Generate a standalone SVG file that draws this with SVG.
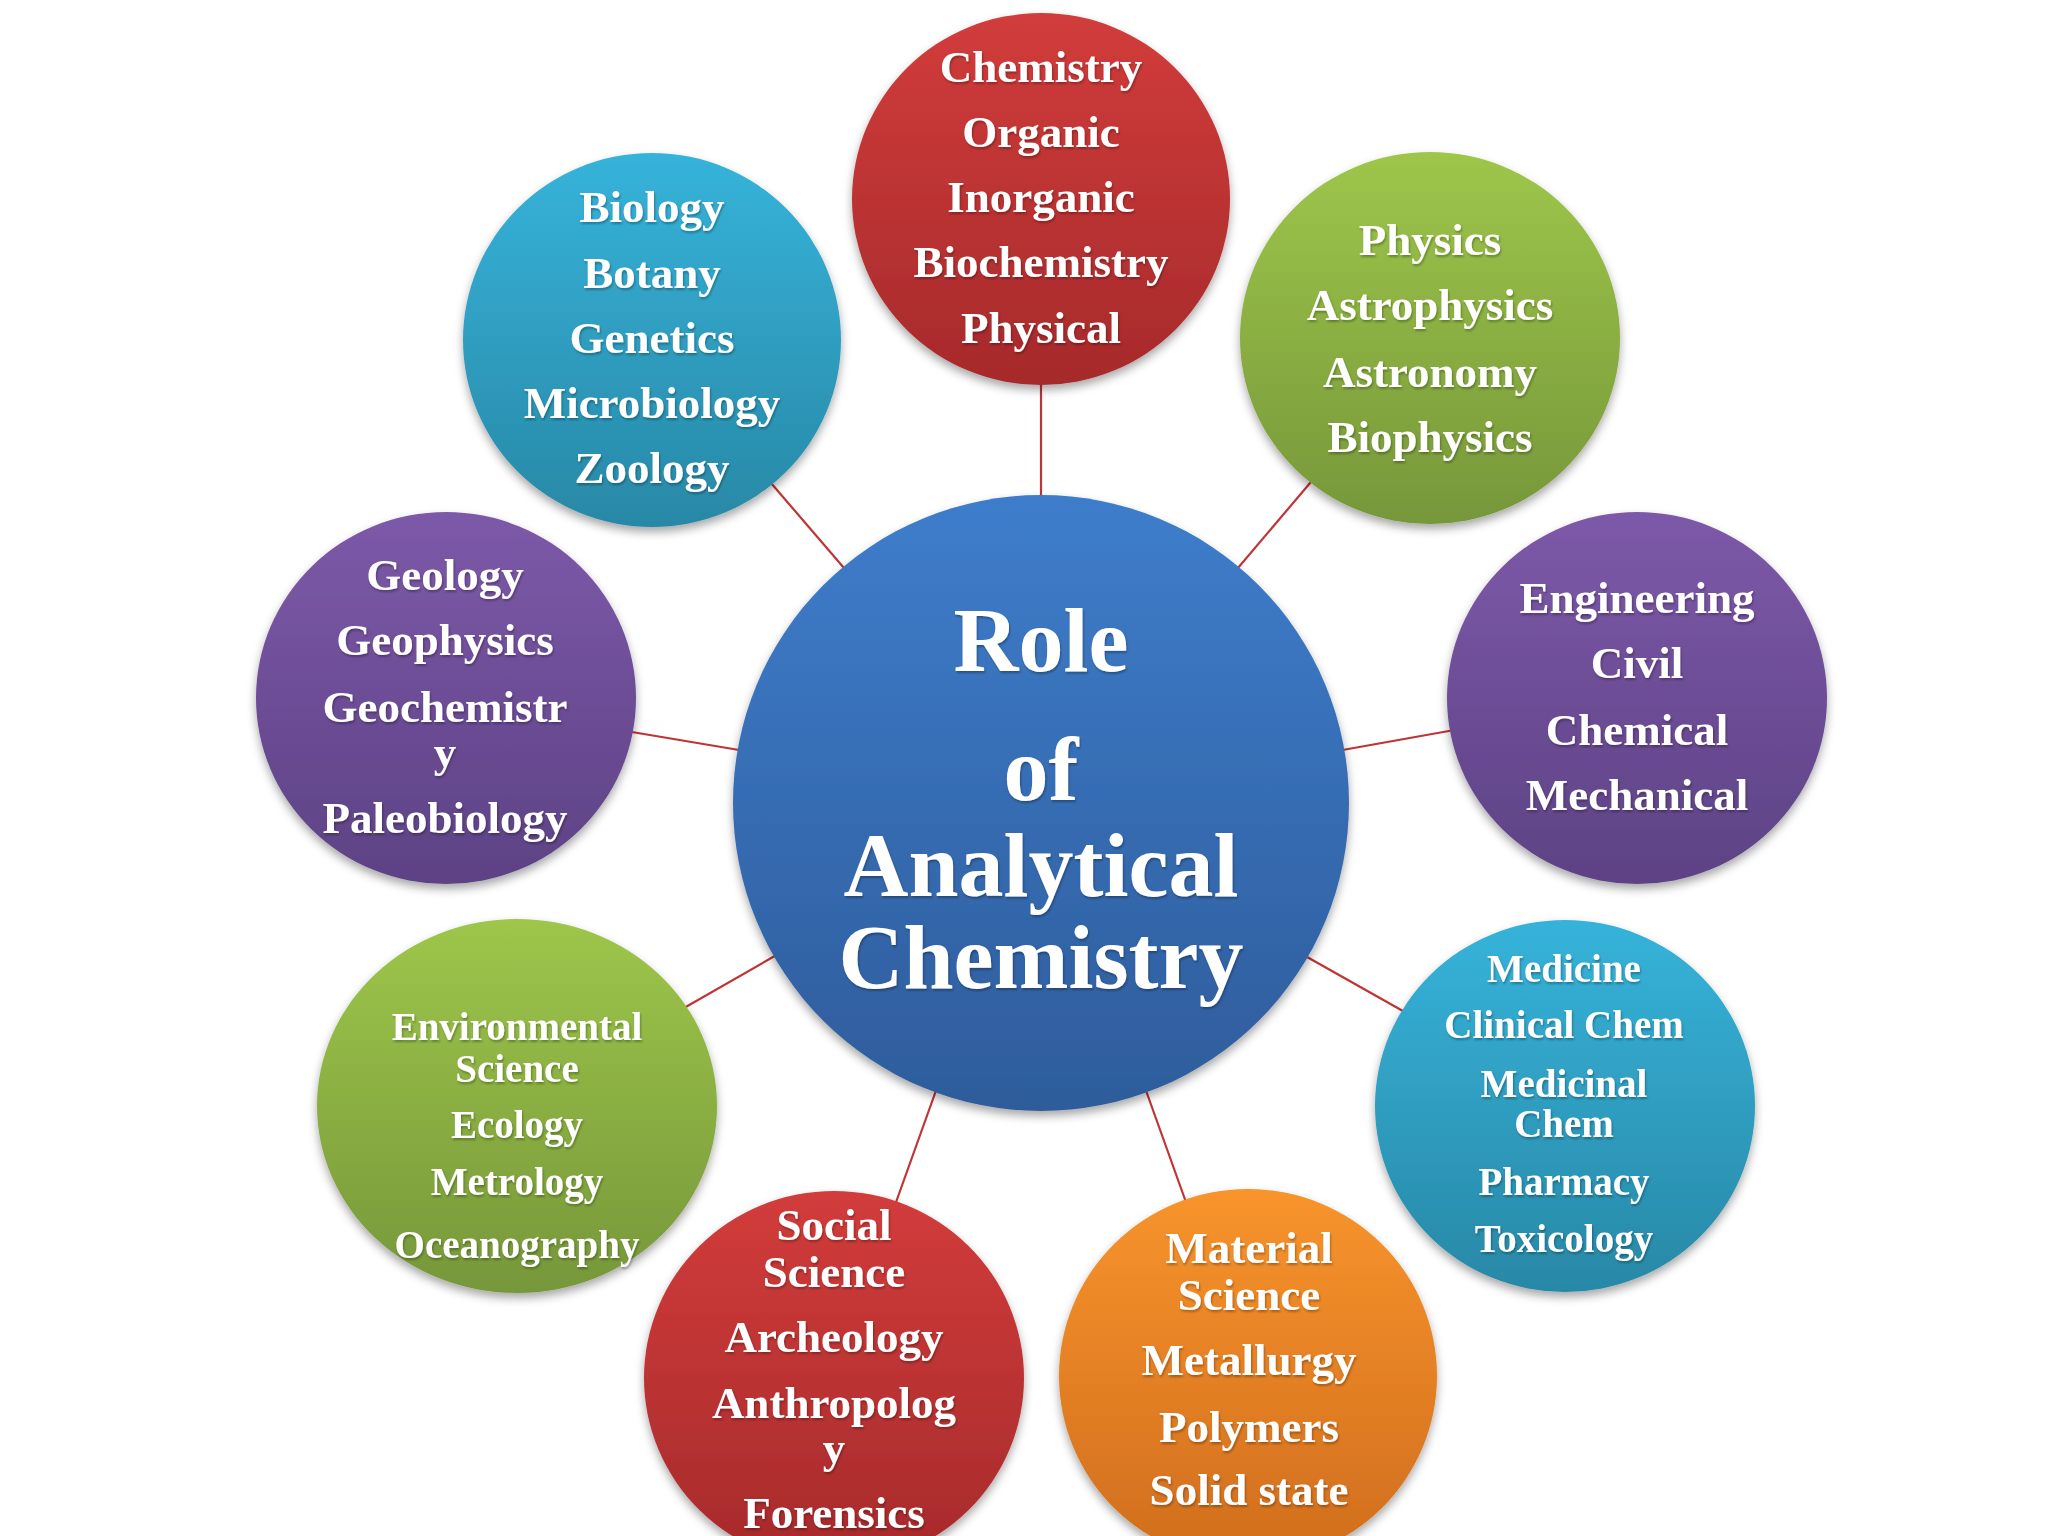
<svg xmlns="http://www.w3.org/2000/svg" width="2048" height="1536" viewBox="0 0 2048 1536">
<defs>
<linearGradient id="gBlue" x1="0" y1="0" x2="0" y2="1"><stop offset="0" stop-color="#3E7DCB"/><stop offset="1" stop-color="#2E5C9B"/></linearGradient>
<linearGradient id="gRed" x1="0" y1="0" x2="0" y2="1"><stop offset="0" stop-color="#D23C3B"/><stop offset="1" stop-color="#A62A2B"/></linearGradient>
<linearGradient id="gCyan" x1="0" y1="0" x2="0" y2="1"><stop offset="0" stop-color="#36B3DA"/><stop offset="1" stop-color="#2888A6"/></linearGradient>
<linearGradient id="gGreen" x1="0" y1="0" x2="0" y2="1"><stop offset="0" stop-color="#9EC64A"/><stop offset="1" stop-color="#76973A"/></linearGradient>
<linearGradient id="gPurple" x1="0" y1="0" x2="0" y2="1"><stop offset="0" stop-color="#7D59A9"/><stop offset="1" stop-color="#5D4284"/></linearGradient>
<linearGradient id="gOrange" x1="0" y1="0" x2="0" y2="1"><stop offset="0" stop-color="#F8942C"/><stop offset="1" stop-color="#D06D1D"/></linearGradient>
<filter id="sh" x="-20%" y="-20%" width="140%" height="140%"><feDropShadow dx="0" dy="5" stdDeviation="5" flood-color="#000" flood-opacity="0.35"/></filter>
<filter id="tsh" x="-10%" y="-10%" width="120%" height="130%"><feDropShadow dx="1" dy="2" stdDeviation="1.2" flood-color="#000" flood-opacity="0.3"/></filter>
</defs>
<style>
.t{font-family:"Liberation Serif","Times New Roman",serif;font-weight:bold;fill:#fff;text-anchor:middle;font-size:45px}
.s{font-size:39px}
.big{font-size:90px}
.c{stroke:#BF3434;stroke-width:2.2;fill:none}
</style>
<rect width="2048" height="1536" fill="#fff"/>
<g id="connectors">
<line class="c" x1="1041" y1="370" x2="1041" y2="505"/>
<line class="c" x1="765" y1="476" x2="850" y2="575"/>
<line class="c" x1="620" y1="730" x2="745" y2="751"/>
<line class="c" x1="1316" y1="476" x2="1232" y2="575"/>
<line class="c" x1="1460" y1="729" x2="1337" y2="751"/>
<line class="c" x1="677" y1="1012" x2="780" y2="953"/>
<line class="c" x1="1300" y1="953" x2="1410" y2="1015"/>
<line class="c" x1="938" y1="1085" x2="895" y2="1205"/>
<line class="c" x1="1144" y1="1085" x2="1187" y2="1205"/>
</g>
<g id="center">
<ellipse cx="1041" cy="803" rx="308" ry="308" fill="url(#gBlue)" filter="url(#sh)"/>
<g filter="url(#tsh)">
<text class="t big" x="1041" y="671">Role</text>
<text class="t big" x="1041" y="800">of</text>
<text class="t big" x="1041" y="896">Analytical</text>
<text class="t big" x="1041" y="988">Chemistry</text>
</g>
</g>
<g id="chemistry">
<ellipse cx="1041" cy="199" rx="189" ry="186" fill="url(#gRed)" filter="url(#sh)"/>
<g filter="url(#tsh)">
<text class="t" x="1041" y="82">Chemistry</text>
<text class="t" x="1041" y="147">Organic</text>
<text class="t" x="1041" y="212">Inorganic</text>
<text class="t" x="1041" y="277">Biochemistry</text>
<text class="t" x="1041" y="343">Physical</text>
</g>
</g>
<g id="biology">
<ellipse cx="652" cy="340" rx="189" ry="187" fill="url(#gCyan)" filter="url(#sh)"/>
<g filter="url(#tsh)">
<text class="t" x="652" y="222">Biology</text>
<text class="t" x="652" y="288">Botany</text>
<text class="t" x="652" y="353">Genetics</text>
<text class="t" x="652" y="418">Microbiology</text>
<text class="t" x="652" y="483">Zoology</text>
</g>
</g>
<g id="physics">
<ellipse cx="1430" cy="338" rx="190" ry="186" fill="url(#gGreen)" filter="url(#sh)"/>
<g filter="url(#tsh)">
<text class="t" x="1430" y="255">Physics</text>
<text class="t" x="1430" y="320">Astrophysics</text>
<text class="t" x="1430" y="387">Astronomy</text>
<text class="t" x="1430" y="452">Biophysics</text>
</g>
</g>
<g id="geology">
<ellipse cx="446" cy="698" rx="190" ry="186" fill="url(#gPurple)" filter="url(#sh)"/>
<g filter="url(#tsh)">
<text class="t" x="445" y="590">Geology</text>
<text class="t" x="445" y="655">Geophysics</text>
<text class="t" x="445" y="722">Geochemistr</text>
<text class="t" x="445" y="767">y</text>
<text class="t" x="445" y="833">Paleobiology</text>
</g>
</g>
<g id="engineering">
<ellipse cx="1637" cy="698" rx="190" ry="186" fill="url(#gPurple)" filter="url(#sh)"/>
<g filter="url(#tsh)">
<text class="t" x="1637" y="613">Engineering</text>
<text class="t" x="1637" y="678">Civil</text>
<text class="t" x="1637" y="745">Chemical</text>
<text class="t" x="1637" y="810">Mechanical</text>
</g>
</g>
<g id="environmental">
<ellipse cx="517" cy="1106" rx="200" ry="187" fill="url(#gGreen)" filter="url(#sh)"/>
<g filter="url(#tsh)">
<text class="t s" x="517" y="1040">Environmental</text>
<text class="t s" x="517" y="1082">Science</text>
<text class="t s" x="517" y="1138">Ecology</text>
<text class="t s" x="517" y="1195">Metrology</text>
<text class="t s" x="517" y="1258">Oceanography</text>
</g>
</g>
<g id="medicine">
<ellipse cx="1565" cy="1106" rx="190" ry="186" fill="url(#gCyan)" filter="url(#sh)"/>
<g filter="url(#tsh)">
<text class="t s" x="1564" y="982">Medicine</text>
<text class="t s" x="1564" y="1038">Clinical Chem</text>
<text class="t s" x="1564" y="1097">Medicinal</text>
<text class="t s" x="1564" y="1137">Chem</text>
<text class="t s" x="1564" y="1195">Pharmacy</text>
<text class="t s" x="1564" y="1252">Toxicology</text>
</g>
</g>
<g id="social">
<ellipse cx="834" cy="1378" rx="190" ry="187" fill="url(#gRed)" filter="url(#sh)"/>
<g filter="url(#tsh)">
<text class="t" x="834" y="1240">Social</text>
<text class="t" x="834" y="1287">Science</text>
<text class="t" x="834" y="1352">Archeology</text>
<text class="t" x="834" y="1418">Anthropolog</text>
<text class="t" x="834" y="1463">y</text>
<text class="t" x="834" y="1528">Forensics</text>
</g>
</g>
<g id="material">
<ellipse cx="1248" cy="1376" rx="189" ry="187" fill="url(#gOrange)" filter="url(#sh)"/>
<g filter="url(#tsh)">
<text class="t" x="1249" y="1263">Material</text>
<text class="t" x="1249" y="1310">Science</text>
<text class="t" x="1249" y="1375">Metallurgy</text>
<text class="t" x="1249" y="1442">Polymers</text>
<text class="t" x="1249" y="1505">Solid state</text>
</g>
</g>
</svg>
